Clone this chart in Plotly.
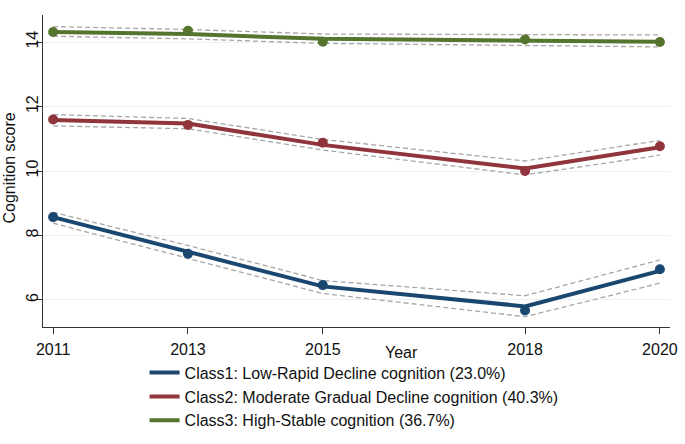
import plotly.graph_objects as go

years = [2011, 2013, 2015, 2018, 2020]

class_names = [
    "Class1: Low-Rapid Decline cognition (23.0%)",
    "Class2: Moderate Gradual Decline cognition (40.3%)",
    "Class3: High-Stable cognition (36.7%)",
]

# fitted trajectories
c1_fit = [8.57, 7.48, 6.42, 5.80, 6.90]
c2_fit = [11.58, 11.47, 10.81, 10.08, 10.74]
c3_fit = [14.31, 14.25, 14.10, 14.03, 14.01]

# observed means
c1_obs = [8.57, 7.43, 6.46, 5.67, 6.95]
c2_obs = [11.60, 11.43, 10.88, 10.00, 10.77]
c3_obs = [14.31, 14.35, 14.01, 14.08, 14.00]

# 95% CI bounds
c1_hi = [8.72, 7.69, 6.60, 6.13, 7.24]
c1_lo = [8.38, 7.30, 6.20, 5.48, 6.52]
c2_hi = [11.75, 11.63, 10.98, 10.31, 10.95]
c2_lo = [11.40, 11.31, 10.65, 9.88, 10.49]
c3_hi = [14.48, 14.39, 14.25, 14.22, 14.22]
c3_lo = [14.18, 14.10, 13.96, 13.88, 13.85]

colors = ["#1a476f", "#90353b", "#55752f"]
ci_color = "#a6a6a6"
FONT = "Liberation Sans, Arial, sans-serif"

fig = go.Figure()

fits = [c1_fit, c2_fit, c3_fit]
obs = [c1_obs, c2_obs, c3_obs]
his = [c1_hi, c2_hi, c3_hi]
los = [c1_lo, c2_lo, c3_lo]

for hi, lo in zip(his, los):
    for band in (hi, lo):
        fig.add_trace(go.Scatter(
            x=years, y=band, mode="lines",
            line=dict(color=ci_color, width=1.3, dash="5px,3px"),
            showlegend=False, hoverinfo="skip"))

for name, fit, ob, col in zip(class_names, fits, obs, colors):
    fig.add_trace(go.Scatter(
        x=years, y=fit, mode="lines", name=name,
        line=dict(color=col, width=4)))
    fig.add_trace(go.Scatter(
        x=years, y=ob, mode="markers", showlegend=False,
        marker=dict(color=col, size=10)))

fig.update_layout(
    width=685, height=444,
    margin=dict(l=43, r=15, t=15, b=117, autoexpand=False),
    paper_bgcolor="white", plot_bgcolor="white",
    font=dict(family=FONT, size=16, color="#111111"),
    showlegend=True,
    legend=dict(
        x=0.162, xanchor="left", y=-0.092, yanchor="top",
        orientation="v", font=dict(family=FONT, size=16, color="#111111"),
        bgcolor="rgba(0,0,0,0)", tracegroupgap=0,
    ),
    xaxis=dict(
        range=[2010.85, 2020.15], automargin=False,
        tickmode="array", tickvals=years, ticktext=[str(y) for y in years],
        showgrid=False, zeroline=False,
        showline=True, linecolor="#333333", linewidth=1,
        ticks="outside", ticklen=6, tickcolor="#333333", tickwidth=1,
        ticklabelstandoff=2,
        tickfont=dict(family=FONT, size=16, color="#111111"),
    ),
    yaxis=dict(
        range=[5.16, 14.84], automargin=False,
        tickmode="array", tickvals=[6, 8, 10, 12, 14],
        showgrid=True, gridcolor="#eaf2f3", gridwidth=1, zeroline=False,
        showline=True, linecolor="#333333", linewidth=1,
        ticks="outside", ticklen=6, tickcolor="#333333", tickwidth=1,
        tickangle=-90, ticklabelstandoff=-8,
        tickfont=dict(family=FONT, size=16, color="#111111"),
    ),
    annotations=[
        dict(text="Year", xref="paper", yref="paper", x=0.572, y=-0.083,
             xanchor="center", yanchor="middle", showarrow=False,
             font=dict(family=FONT, size=16, color="#111111")),
        dict(text="Cognition score", xref="paper", yref="paper", x=0, y=0.508,
             xshift=-33, xanchor="center", yanchor="middle", textangle=-90,
             showarrow=False, font=dict(family=FONT, size=16, color="#111111")),
    ],
)

fig.write_html("out.html", config={"displayModeBar": False},
               post_script="document.body.style.margin='0';")
